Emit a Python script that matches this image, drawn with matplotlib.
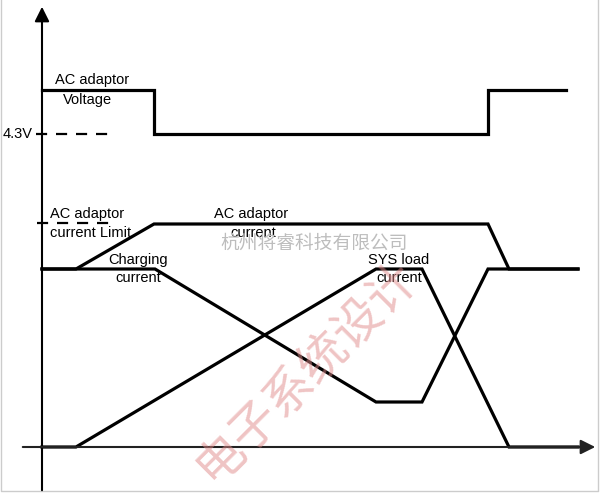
import matplotlib.pyplot as plt

# time / level values of each trace (y counted upward from the bottom of the picture)
voltage_t = [42, 154, 154, 488, 488, 566]
voltage_v = [403, 403, 359, 359, 403, 403]

adaptor_t = [42, 76, 154, 488, 509, 578]
adaptor_i = [224, 224, 269, 269, 224, 224]

charge_t = [42, 155, 376, 422, 488, 578]
charge_i = [224, 224, 91, 91, 224, 224]

sys_t = [42, 76, 376, 422, 509, 578]
sys_i = [46, 46, 224, 224, 46, 46]

v_43 = 359       # 4.3V level
i_limit = 270    # adaptor current limit level

plt.rcParams['font.family'] = ['Liberation Sans', 'DejaVu Sans']

fig = plt.figure(figsize=(6, 4.93), dpi=100)
ax = fig.add_axes([0, 0, 1, 1])
ax.set_xlim(0, 600)
ax.set_ylim(0, 493)
ax.axis('off')

# axes with arrows
ax.annotate('', xy=(42, 489), xytext=(42, 0),
            arrowprops=dict(arrowstyle='-|>', color='black', lw=1.5, mutation_scale=22))
ax.annotate('', xy=(598, 46), xytext=(20, 46),
            arrowprops=dict(arrowstyle='-|>', color='#222222', lw=1.5, mutation_scale=22))

lw = 2.3
ax.plot(voltage_t, voltage_v, color='black', lw=lw, solid_joinstyle='miter')
ax.plot(adaptor_t, adaptor_i, color='black', lw=lw, solid_joinstyle='miter')
ax.plot(charge_t, charge_i, color='black', lw=lw, solid_joinstyle='miter')
ax.plot(sys_t, sys_i, color='black', lw=lw, solid_joinstyle='miter')

# dashed reference levels
ax.plot([36, 115], [v_43, v_43], color='black', lw=1.6, dashes=(5, 4))
ax.plot([37, 115], [i_limit, i_limit], color='black', lw=1.6, dashes=(5, 4))

fs = 10.5
ax.text(3, v_43, '4.3V', fontsize=fs, va='center', ha='left')
ax.text(55, 413, 'AC adaptor', fontsize=fs, va='center')
ax.text(63, 393, 'Voltage', fontsize=fs, va='center')
ax.text(50, 279, 'AC adaptor', fontsize=fs, va='center')
ax.text(50, 260, 'current Limit', fontsize=fs, va='center')
ax.text(108, 233, 'Charging', fontsize=fs, va='center')
ax.text(115, 215, 'current', fontsize=fs, va='center')
ax.text(214, 279, 'AC adaptor', fontsize=fs, va='center')
ax.text(230, 260, 'current', fontsize=fs, va='center')
ax.text(368, 233, 'SYS load', fontsize=fs, va='center')
ax.text(376, 215, 'current', fontsize=fs, va='center')

# watermarks
ax.text(314, 250, '杭州将睿科技有限公司', fontsize=13.5, color='#bdbdbd',
        ha='center', va='center', family=['Noto Sans CJK SC', 'DejaVu Sans'])
ax.text(306, 122, '电子系统设计', fontsize=35, color='#e08a8a', alpha=0.5,
        ha='center', va='center', rotation=45, zorder=5,
        family=['Noto Sans CJK SC', 'DejaVu Sans'])

# light frame
ax.plot([0.5, 0.5, 598, 598], [493, 2, 2, 493], color='#cccccc', lw=1)

fig.savefig('out.png', dpi=100)
